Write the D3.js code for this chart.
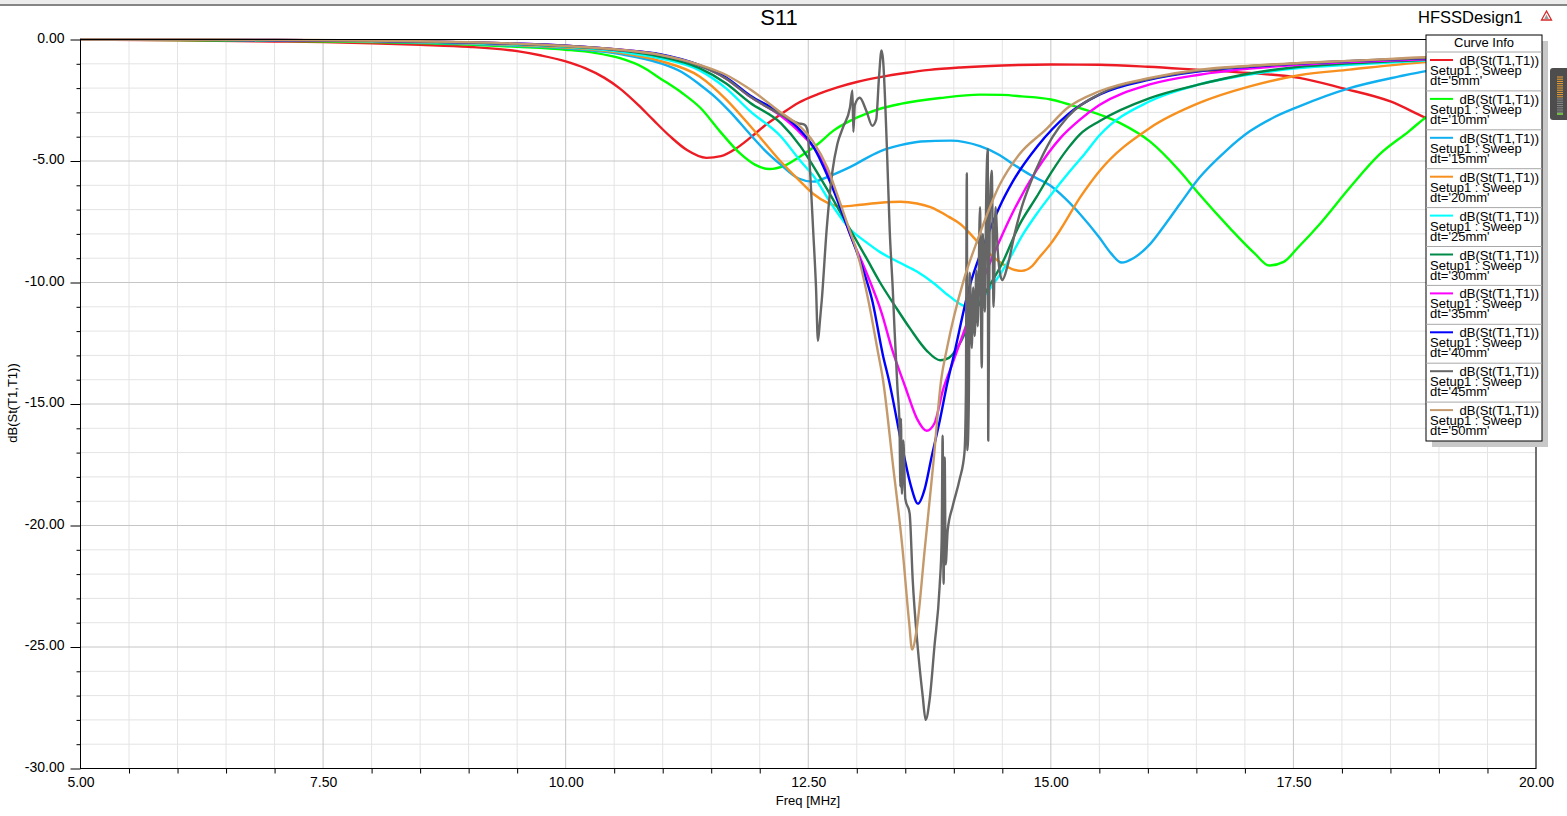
<!DOCTYPE html>
<html>
<head>
<meta charset="utf-8">
<script src="https://cdn.jsdelivr.net/npm/d3@7"></script>
<style>
  body { margin: 0; background: #fff; }
  svg { display: block; font-family: "Liberation Sans", Arial, sans-serif; }
</style>
</head>
<body>
<svg width="1567" height="816"></svg>
<script>
// tick labels
var xTicks = [5, 7.5, 10, 12.5, 15, 17.5, 20];
var yTicks = [0, -5, -10, -15, -20, -25, -30];

// curve names (legend)
var dtLabels = ["5mm", "10mm", "15mm", "20mm", "25mm", "30mm", "35mm", "40mm", "45mm", "50mm"];

// [freq MHz, dB]
var dt5 = [[5,0],[6,-0.03],[7,-0.08],[7.5,-0.11],[8,-0.16],[8.5,-0.22],[9,-0.3],[9.5,-0.48],[9.75,-0.66],[10,-0.9],[10.2,-1.18],[10.4,-1.58],[10.56,-2.02],[10.75,-2.7],[10.9,-3.3],[11.08,-4.0],[11.25,-4.55],[11.45,-4.87],[11.6,-4.8],[11.75,-4.5],[11.9,-4.05],[12.05,-3.55],[12.21,-3.1],[12.4,-2.6],[12.6,-2.25],[12.8,-1.97],[13.0,-1.75],[13.24,-1.55],[13.5,-1.38],[13.75,-1.25],[14.07,-1.15],[14.5,-1.07],[15,-1.03],[15.5,-1.04],[16,-1.12],[16.53,-1.25],[17.05,-1.38],[17.56,-1.58],[18.0,-2.0],[18.5,-2.55],[18.85,-3.2],[19.2,-3.8],[19.6,-4.6],[20,-5.5]];
var dt10 = [[5,0],[6,-0.02],[7,-0.05],[8,-0.1],[8.5,-0.15],[9,-0.21],[9.5,-0.3],[10,-0.42],[10.3,-0.55],[10.56,-0.77],[10.8,-1.15],[10.97,-1.59],[11.2,-2.2],[11.39,-2.82],[11.59,-3.78],[11.8,-4.7],[11.95,-5.15],[12.1,-5.33],[12.25,-5.2],[12.42,-4.8],[12.6,-4.3],[12.76,-3.75],[12.93,-3.35],[13.1,-3.05],[13.24,-2.85],[13.45,-2.65],[13.86,-2.41],[14.27,-2.27],[14.5,-2.28],[14.7,-2.34],[15.0,-2.47],[15.3,-2.82],[15.71,-3.43],[16.02,-4.19],[16.33,-5.42],[16.53,-6.37],[16.84,-7.74],[17.1,-8.8],[17.25,-9.3],[17.4,-9.15],[17.55,-8.55],[17.77,-7.6],[18.08,-6.1],[18.39,-4.72],[18.69,-3.78],[18.85,-3.25],[19.2,-2.45],[19.6,-1.85],[20,-1.45]];
var dt15 = [[5,0],[6,-0.01],[7,-0.04],[8,-0.08],[8.5,-0.13],[9,-0.18],[9.5,-0.26],[10,-0.36],[10.56,-0.6],[10.97,-0.97],[11.2,-1.35],[11.38,-1.85],[11.55,-2.4],[11.7,-3.0],[11.9,-3.9],[12.05,-4.55],[12.21,-5.13],[12.4,-5.72],[12.55,-5.85],[12.7,-5.65],[12.93,-5.25],[13.24,-4.6],[13.45,-4.35],[13.66,-4.2],[13.97,-4.16],[14.27,-4.39],[14.47,-4.75],[14.6,-5.1],[14.8,-5.6],[14.99,-6.0],[15.15,-6.55],[15.3,-7.18],[15.5,-8.15],[15.62,-8.8],[15.73,-9.18],[15.85,-9.0],[16.02,-8.43],[16.18,-7.6],[16.33,-6.77],[16.53,-5.69],[16.8,-4.6],[17.05,-3.78],[17.3,-3.2],[17.56,-2.75],[18.08,-2.0],[18.59,-1.52],[18.85,-1.31],[19.4,-1.1],[20,-0.92]];
var dt20 = [[5,0],[6,-0.01],[7,-0.03],[8,-0.07],[8.5,-0.11],[9,-0.16],[9.5,-0.23],[10,-0.33],[10.56,-0.55],[10.97,-0.88],[11.38,-1.52],[11.65,-2.45],[11.9,-3.55],[12.05,-4.25],[12.2,-4.95],[12.42,-5.85],[12.55,-6.35],[12.7,-6.72],[12.85,-6.87],[13.04,-6.8],[13.24,-6.72],[13.45,-6.68],[13.62,-6.75],[13.76,-6.9],[13.95,-7.3],[14.07,-7.6],[14.27,-8.43],[14.47,-9.15],[14.6,-9.45],[14.7,-9.52],[14.8,-9.35],[14.88,-8.97],[15.0,-8.4],[15.09,-7.88],[15.3,-6.51],[15.5,-5.42],[16.02,-3.64],[16.53,-2.61],[17.05,-1.93],[17.56,-1.47],[18.08,-1.24],[18.85,-0.93],[19.4,-0.8],[20,-0.68]];
var dt25 = [[5,0],[6,-0.01],[7,-0.03],[8,-0.06],[8.5,-0.1],[9,-0.15],[9.5,-0.21],[10,-0.3],[10.56,-0.5],[10.97,-0.77],[11.38,-1.27],[11.65,-2.0],[11.9,-2.95],[12.22,-4.0],[12.42,-5.0],[12.55,-5.6],[12.76,-6.9],[12.93,-7.8],[13.1,-8.35],[13.24,-8.75],[13.45,-9.2],[13.62,-9.55],[13.8,-10.05],[13.95,-10.55],[14.13,-10.98],[14.25,-10.8],[14.41,-10.05],[14.55,-9.2],[14.7,-8.1],[14.85,-7.2],[15.0,-6.4],[15.2,-5.4],[15.35,-4.7],[15.5,-3.95],[16.02,-2.54],[16.53,-1.85],[17.05,-1.44],[17.56,-1.18],[18.08,-1.04],[18.85,-0.87],[19.4,-0.78],[20,-0.7]];
var dt30 = [[5,0],[6,-0.01],[7,-0.03],[8,-0.05],[8.5,-0.09],[9,-0.13],[9.5,-0.19],[10,-0.28],[10.56,-0.45],[10.97,-0.7],[11.38,-1.18],[11.65,-1.8],[11.9,-2.6],[12.22,-3.45],[12.42,-4.4],[12.55,-5.2],[12.7,-6.2],[12.9,-7.6],[13.1,-9.0],[13.24,-10.0],[13.4,-11.0],[13.55,-11.9],[13.72,-12.8],[13.86,-13.2],[13.95,-13.1],[14.05,-12.6],[14.16,-11.7],[14.3,-10.6],[14.5,-9.2],[14.68,-7.6],[14.85,-6.5],[15.0,-5.5],[15.18,-4.46],[15.3,-3.9],[15.5,-3.36],[16.02,-2.41],[16.53,-1.85],[17.05,-1.4],[17.56,-1.12],[18.08,-0.98],[18.85,-0.84],[19.4,-0.76],[20,-0.68]];
var dt35 = [[5,0],[6,-0.01],[7,-0.02],[8,-0.05],[8.5,-0.08],[9,-0.12],[9.5,-0.17],[10,-0.25],[10.56,-0.42],[10.97,-0.62],[11.38,-1.07],[11.65,-1.6],[11.9,-2.35],[12.22,-3.15],[12.42,-3.85],[12.6,-4.7],[12.78,-6.3],[12.93,-8.0],[13.1,-9.6],[13.26,-11.3],[13.36,-12.7],[13.5,-14.3],[13.62,-15.6],[13.72,-16.1],[13.8,-15.8],[13.89,-14.4],[13.99,-13.3],[14.16,-11.4],[14.34,-9.5],[14.47,-8.3],[14.61,-7.1],[14.85,-5.4],[15.1,-4.05],[15.3,-3.3],[15.5,-2.7],[16.02,-1.85],[16.53,-1.45],[17.05,-1.2],[17.56,-1.04],[18.08,-0.93],[18.85,-0.81],[19.4,-0.73],[20,-0.66]];
var dt40 = [[5,0],[6,-0.01],[7,-0.02],[8,-0.05],[8.5,-0.08],[9,-0.12],[9.5,-0.17],[10,-0.25],[10.56,-0.42],[10.97,-0.6],[11.38,-1.05],[11.65,-1.55],[11.9,-2.3],[12.22,-3.05],[12.42,-3.75],[12.55,-4.4],[12.75,-6.1],[12.93,-8.0],[13.05,-9.3],[13.16,-10.75],[13.27,-13.0],[13.33,-14.0],[13.48,-17.0],[13.56,-18.4],[13.63,-19.1],[13.7,-18.5],[13.77,-17.2],[13.86,-15.6],[13.93,-14.2],[14.0,-13.0],[14.16,-10.2],[14.34,-8.15],[14.47,-6.9],[14.61,-5.83],[14.86,-4.4],[15.17,-3.1],[15.5,-2.27],[16.02,-1.65],[16.53,-1.31],[17.05,-1.12],[17.56,-0.99],[18.08,-0.89],[18.85,-0.77],[19.4,-0.7],[20,-0.64]];
var dt45 = [[5,0],[6,-0.01],[7,-0.02],[8,-0.05],[8.5,-0.08],[9,-0.12],[9.5,-0.18],[10,-0.26],[10.56,-0.43],[10.97,-0.62],[11.38,-1.08],[11.65,-1.6],[11.9,-2.35],[12.2,-3.05],[12.4,-3.45],[12.46,-3.5],[12.49,-3.7],[12.52,-5.5],[12.55,-7.8],[12.58,-10.2],[12.6,-12.4],[12.62,-11.6],[12.64,-10.7],[12.69,-7.8],[12.75,-5.4],[12.8,-4.3],[12.86,-3.6],[12.93,-2.8],[12.955,-2.1],[12.965,-3.8],[12.98,-2.7],[13.03,-2.4],[13.1,-2.95],[13.16,-3.55],[13.2,-3.3],[13.23,-1.5],[13.255,-0.45],[13.27,-0.8],[13.31,-4.4],[13.34,-7.9],[13.37,-10.2],[13.39,-12.0],[13.42,-14.4],[13.44,-15.8],[13.45,-18.4],[13.455,-15.6],[13.465,-18.7],[13.48,-16.5],[13.5,-18.9],[13.545,-19.5],[13.576,-22.2],[13.628,-25.0],[13.679,-27.0],[13.71,-28.0],[13.75,-27.2],[13.8,-25.0],[13.854,-22.5],[13.875,-20.6],[13.885,-16.3],[13.895,-22.4],[13.906,-17.2],[13.916,-21.6],[13.937,-20.2],[13.989,-19.2],[14.06,-18.1],[14.11,-17.0],[14.125,-14.5],[14.134,-5.5],[14.14,-16.9],[14.154,-15.1],[14.165,-9.6],[14.185,-12.7],[14.2,-10.2],[14.216,-12.2],[14.232,-9.5],[14.247,-11.8],[14.27,-6.9],[14.288,-13.5],[14.3,-8.0],[14.319,-11.2],[14.335,-6.2],[14.35,-4.5],[14.355,-16.5],[14.37,-7.5],[14.391,-5.4],[14.41,-11.0],[14.43,-6.9],[14.453,-8.7],[14.475,-9.6],[14.5,-9.9],[14.555,-9.3],[14.627,-8.0],[14.7,-6.9],[14.79,-5.9],[14.9,-4.9],[15.02,-4.0],[15.17,-3.2],[15.5,-2.25],[16.02,-1.62],[16.53,-1.28],[17.05,-1.1],[17.56,-0.98],[18.08,-0.88],[18.85,-0.76],[19.4,-0.69],[20,-0.63]];
var dt50 = [[5,0],[6,0],[7,-0.01],[8,-0.04],[8.5,-0.07],[9,-0.11],[9.5,-0.17],[10,-0.27],[10.56,-0.42],[10.97,-0.63],[11.38,-1.04],[11.65,-1.45],[11.9,-2.05],[12.2,-2.95],[12.42,-3.6],[12.55,-4.2],[12.7,-5.3],[12.8,-6.4],[12.93,-7.9],[13.0,-8.7],[13.12,-10.75],[13.22,-12.9],[13.27,-14.0],[13.37,-17.4],[13.47,-20.9],[13.54,-24.0],[13.57,-25.1],[13.62,-24.2],[13.7,-21.0],[13.79,-17.4],[13.87,-14.0],[13.93,-12.7],[14.1,-9.93],[14.24,-8.3],[14.47,-6.0],[14.67,-4.75],[14.95,-3.7],[15.17,-2.82],[15.5,-2.13],[16.02,-1.58],[16.53,-1.24],[17.05,-1.08],[17.56,-0.97],[18.08,-0.88],[18.85,-0.73],[19.4,-0.66],[20,-0.6]];

var seriesData = [dt5, dt10, dt15, dt20, dt25, dt30, dt35, dt40, dt45, dt50];
var colors = ["#ed1c24", "#00ff00", "#10b0f0", "#f7901e", "#00ffff", "#008a48", "#ff00ff", "#0000ff", "#666666", "#c49a6c"];

var svg = d3.select("svg");
var plotL = 80.5, plotR = 1536, plotT = 39.5, plotB = 768.5;

var x = d3.scaleLinear().domain([5, 20]).range([plotL, plotR]);
var y = d3.scaleLinear().domain([-30, 0]).range([plotB, plotT]);

// window strip at the very top
svg.append("rect").attr("x", 0).attr("y", 0).attr("width", 1567).attr("height", 4).attr("fill", "#ececec");
svg.append("rect").attr("x", 0).attr("y", 4).attr("width", 1567).attr("height", 2).attr("fill", "#858585");

// grid
var minorX = d3.range(5, 20.01, 0.5).filter(function(d) { return xTicks.indexOf(d) < 0; });
var minorY = d3.range(-30, 0.01, 1).filter(function(d) { return yTicks.indexOf(d) < 0; });

var grid = svg.append("g");
grid.selectAll("line.mx").data(minorX).enter().append("line")
    .attr("x1", function(d) { return x(d); }).attr("x2", function(d) { return x(d); })
    .attr("y1", plotT).attr("y2", plotB)
    .attr("stroke", "#e4e4e4");
grid.selectAll("line.my").data(minorY).enter().append("line")
    .attr("y1", function(d) { return y(d); }).attr("y2", function(d) { return y(d); })
    .attr("x1", plotL).attr("x2", plotR)
    .attr("stroke", "#e4e4e4");
grid.selectAll("line.jx").data(xTicks).enter().append("line")
    .attr("x1", function(d) { return x(d); }).attr("x2", function(d) { return x(d); })
    .attr("y1", plotT).attr("y2", plotB)
    .attr("stroke", "#c6c6c6");
grid.selectAll("line.jy").data(yTicks).enter().append("line")
    .attr("y1", function(d) { return y(d); }).attr("y2", function(d) { return y(d); })
    .attr("x1", plotL).attr("x2", plotR)
    .attr("stroke", "#c6c6c6");

// axes
var fmt = function(d) { return d.toFixed(2); };

var yAxis = svg.append("g").attr("transform", "translate(" + plotL + ",0)")
    .call(d3.axisLeft(y).tickValues(yTicks).tickFormat(fmt).tickSize(10).tickPadding(6));
yAxis.select(".domain").remove();
yAxis.selectAll("text").attr("font-size", 14).attr("fill", "#000").attr("dy", "0.2em")
    .style("font-family", "'Liberation Sans', Arial, sans-serif");

var yMinor = svg.append("g").attr("transform", "translate(" + plotL + ",0)")
    .call(d3.axisLeft(y).tickValues(minorY).tickFormat("").tickSize(4));
yMinor.select(".domain").remove();

var xAxis = svg.append("g").attr("transform", "translate(0," + plotB + ")")
    .call(d3.axisBottom(x).tickValues(xTicks).tickFormat(fmt).tickSize(0).tickPadding(9));
xAxis.select(".domain").remove();
xAxis.selectAll("text").attr("font-size", 14).attr("fill", "#000")
    .style("font-family", "'Liberation Sans', Arial, sans-serif");

var xMinor = svg.append("g").attr("transform", "translate(0," + plotB + ")")
    .call(d3.axisBottom(x).tickValues(minorX).tickFormat("").tickSize(5));
xMinor.select(".domain").remove();

// curves
svg.append("clipPath").attr("id", "plotclip")
    .append("rect").attr("x", plotL).attr("y", plotT - 2)
    .attr("width", plotR - plotL).attr("height", plotB - plotT + 2);

var line = d3.line()
    .x(function(d) { return x(d[0]); })
    .y(function(d) { return y(d[1]); })
    .curve(d3.curveMonotoneX);

svg.append("g").attr("clip-path", "url(#plotclip)")
    .selectAll("path").data(seriesData).enter().append("path")
    .attr("d", line)
    .attr("fill", "none")
    .attr("stroke", function(d, i) { return colors[i]; })
    .attr("stroke-width", 2.4)
    .attr("stroke-linejoin", "round");

// plot frame
svg.append("rect").attr("x", plotL).attr("y", plotT)
    .attr("width", plotR - plotL).attr("height", plotB - plotT)
    .attr("fill", "none").attr("stroke", "#000").attr("stroke-width", 1);

// titles
svg.append("text").attr("x", 779).attr("y", 25).attr("text-anchor", "middle")
    .attr("font-size", 22).text("S11");
svg.append("text").attr("x", 1418).attr("y", 23).attr("font-size", 16.5).text("HFSSDesign1");
svg.append("text").attr("x", 808).attr("y", 805).attr("text-anchor", "middle")
    .attr("font-size", 13).text("Freq [MHz]");
svg.append("text").attr("transform", "translate(17,403) rotate(-90)")
    .attr("text-anchor", "middle").attr("font-size", 13).text("dB(St(T1,T1))");

// little icon top right
svg.append("path").attr("d", "M1546.5,11 L1551.5,20 L1541.5,20 Z")
    .attr("fill", "none").attr("stroke", "#d42a2a").attr("stroke-width", 1.3);
svg.append("path").attr("d", "M1546.5,14.5 L1548.8,19 L1544.2,19 Z").attr("fill", "#9a9a9a");

// side widget
svg.append("rect").attr("x", 1550).attr("y", 68).attr("width", 22).attr("height", 52)
    .attr("rx", 3).attr("fill", "#4d4d4d");
svg.selectAll("line.wb").data(d3.range(77, 113, 2.2)).enter().append("line")
    .attr("x1", 1557).attr("x2", 1563)
    .attr("y1", function(d) { return d; }).attr("y2", function(d) { return d; })
    .attr("stroke", function(d) { return d < 97 ? "#f0a030" : "#8a8a8a"; })
    .attr("stroke-width", 1);
svg.append("line").attr("x1", 1557).attr("x2", 1563).attr("y1", 114).attr("y2", 114)
    .attr("stroke", "#7fe040").attr("stroke-width", 1.5);

// legend
var lgX = 1426, lgY = 35, lgW = 116, headH = 17, rowH = 38.9;
var lgH = headH + rowH * dtLabels.length;

svg.append("rect").attr("x", lgX + lgW).attr("y", lgY + 6).attr("width", 6).attr("height", lgH)
    .attr("fill", "#c8c8c8");
svg.append("rect").attr("x", lgX + 6).attr("y", lgY + lgH).attr("width", lgW).attr("height", 6)
    .attr("fill", "#c8c8c8");
svg.append("rect").attr("x", lgX).attr("y", lgY).attr("width", lgW).attr("height", lgH)
    .attr("fill", "#fff").attr("stroke", "#000").attr("stroke-width", 1);

svg.append("text").attr("x", lgX + lgW / 2).attr("y", lgY + 12).attr("text-anchor", "middle")
    .attr("font-size", 13).text("Curve Info");

var rows = svg.selectAll("g.legend").data(dtLabels).enter().append("g")
    .attr("class", "legend")
    .attr("transform", function(d, i) { return "translate(" + lgX + "," + (lgY + headH + i * rowH) + ")"; });

rows.append("line").attr("x1", 0).attr("x2", lgW).attr("y1", 0).attr("y2", 0)
    .attr("stroke", "#a8a8a8");
rows.append("line").attr("x1", 4).attr("x2", 27).attr("y1", 8).attr("y2", 8)
    .attr("stroke", function(d, i) { return colors[i]; }).attr("stroke-width", 2);
rows.append("text").attr("x", lgW - 3).attr("y", 13).attr("text-anchor", "end")
    .attr("font-size", 13).text("dB(St(T1,T1))");
rows.append("text").attr("x", 4).attr("y", 23).attr("font-size", 13).text("Setup1 : Sweep");
rows.append("text").attr("x", 4).attr("y", 33).attr("font-size", 13)
    .text(function(d) { return "dt='" + d + "'"; });
</script>
</body>
</html>
